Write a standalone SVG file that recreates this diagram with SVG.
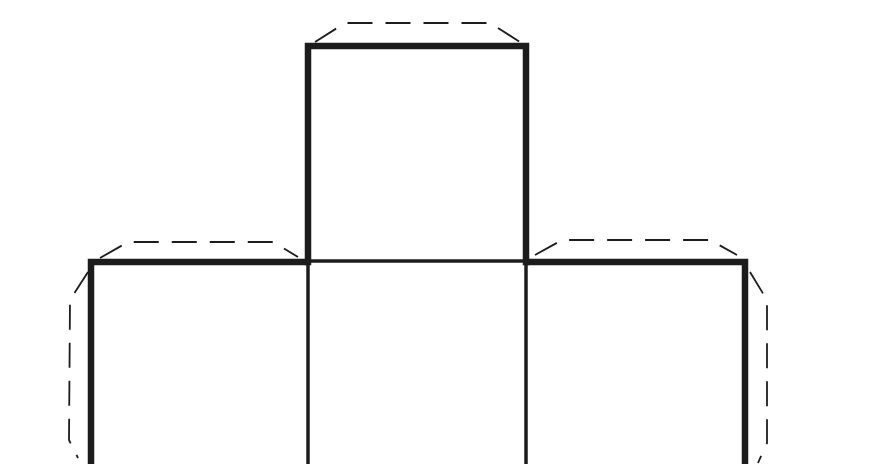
<svg xmlns="http://www.w3.org/2000/svg" width="883" height="464" viewBox="0 0 883 464">
<style>
.thick{fill:none;stroke:#1c1c1c;stroke-width:6.5;stroke-linecap:square}
.thin{fill:none;stroke:#1c1c1c;stroke-width:3.5}
.tab{fill:none;stroke:#1c1c1c;stroke-width:1.8;stroke-dasharray:25 13}
</style>
<rect width="883" height="464" fill="#fff"/>
<g id="tabs">
<path class="tab" d="M315,42 L345,23 L490,23 L520,42"/>
<path class="tab" d="M100,258 L128,242 L273,242 L298,257"/>
<path class="tab" d="M88,272 L70,300 L69,440 L78,458"/>
<path class="tab" d="M535,255 L562,240 L710,240 L737,255"/>
<path class="tab" d="M750,272 L767,300 L767,443 L758,463"/>
</g>
<g id="face-top">
<path class="thick" d="M308,262 L308,46 L526,46 L526,262"/>
</g>
<g id="face-left">
<path class="thick" d="M91,470 L91,262 L305,262"/>
</g>
<g id="face-right">
<path class="thick" d="M529,262 L745,262 L745,470"/>
</g>
<g id="folds">
<path class="thin" d="M308,261 L526,261"/>
<path class="thin" d="M308,262 L308,470"/>
<path class="thin" d="M526,262 L526,470"/>
</g>
</svg>
